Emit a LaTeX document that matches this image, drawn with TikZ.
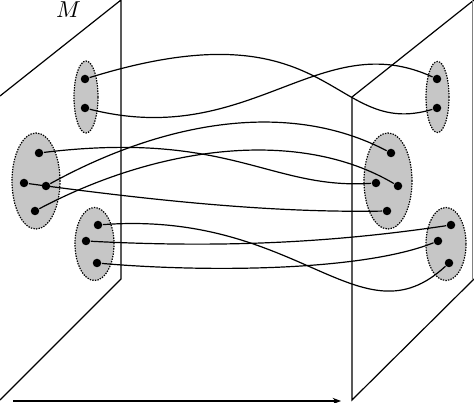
\documentclass[tikz,border=0pt]{standalone}
\usepackage{amsmath}
\usetikzlibrary{arrows.meta, shapes.geometric}
\definecolor{cl}{HTML}{C6C6C6}

\begin{document}
\begin{tikzpicture}[>=Stealth, x=1pt, y=-1pt, line width=1.2pt,
    pt/.style={circle, fill=black, inner sep=0pt, minimum size=8.5pt},
    cluster/.style={ellipse, draw, fill=cl, inner sep=0pt, line width=1.2pt,
        dash pattern=on 1.4pt off 1.2pt}]

    \useasboundingbox (0,0) rectangle (474,403);
    \clip (0,0) rectangle (474,403);

    % the two planes
    \draw (0,96) -- (121,0) -- (121,279) -- (0,400);
    \draw (474,0) -- (352,97) -- (352,400) -- (474,279);
    \draw[gray, line width=0.8pt] (472,0) -- (472,279);

    \node[anchor=base, scale=2.3, inner sep=0pt] (lblM) at (68.5,17.5) {$M$};

    % time axis
    \coordinate (t0) at (13,401);
    \coordinate (t1) at (341,401);
    \draw[->] (t0) -- (t1);

    % groups
    \node[cluster, minimum width=24pt, minimum height=72pt] (gA) at (86,97) {};
    \node[cluster, minimum width=48pt, minimum height=96pt] (gB) at (36,181) {};
    \node[cluster, minimum width=39pt, minimum height=73pt] (gC) at (94.5,244) {};
    \node[cluster, minimum width=23pt, minimum height=71pt] (gD) at (437.5,97) {};
    \node[cluster, minimum width=48pt, minimum height=96pt] (gE) at (388,181) {};
    \node[cluster, minimum width=40pt, minimum height=73pt] (gF) at (446,244) {};

    % points
    \foreach \n/\x/\y in {a1/85/79, a2/85/108,
            b1/39/153, b2/24/183, b3/46/186, b4/35/211,
            c1/98/225, c2/86/241, c3/97/263,
            d1/437/79, d2/437/108,
            e1/391/153, e2/376/183, e3/398/186, e4/387/211,
            f1/451/225, f2/438/241, f3/449/263} {
        \node[pt] (\n) at (\x,\y) {};
    }

    % links
    \draw (a1) .. controls (335,1.5) and (330,140) .. (d2);
    \draw (a2) .. controls (250,150) and (320,25) .. (d1);
    \draw (b1) .. controls (230,130) and (270,190) .. (e2);
    \draw (b2) .. controls (150,200) and (270,213) .. (e4);
    \draw (b3) .. controls (166,120) and (290,100) .. (e1);
    \draw (b4) .. controls (160,145) and (300,128) .. (e3);
    \draw (c1) .. controls (300,210) and (360,345) .. (f3);
    \draw (c2) .. controls (220,248) and (330,243) .. (f1);
    \draw (c3) .. controls (200,272) and (360,272) .. (f2);

\end{tikzpicture}
\end{document}
